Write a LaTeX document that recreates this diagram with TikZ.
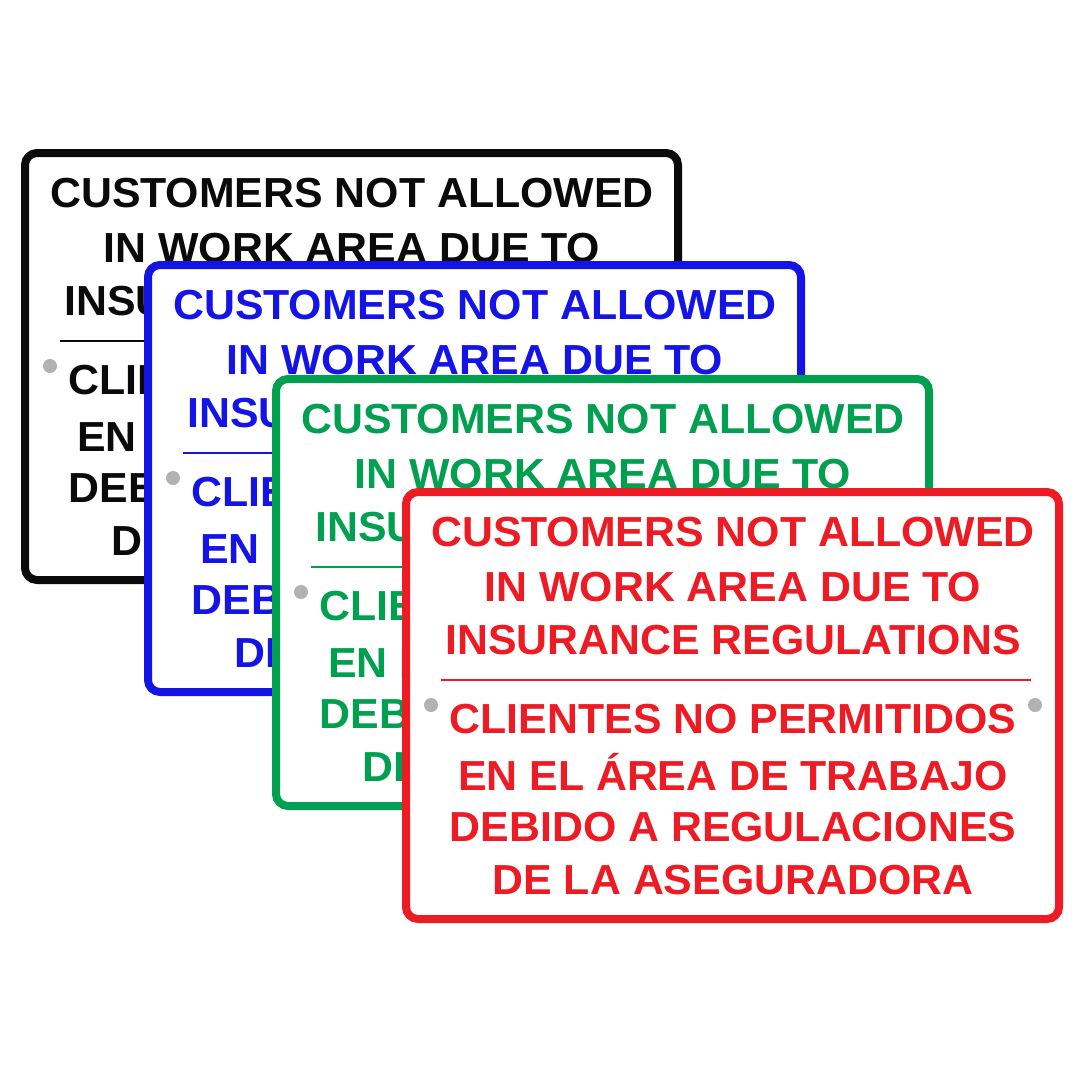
\documentclass[tikz,border=0pt]{standalone}
\usepackage{fontspec}
\setmainfont{Liberation Sans}
\definecolor{sred}{RGB}{237,28,36}
\definecolor{sblue}{RGB}{20,20,230}
\definecolor{sgreen}{RGB}{0,160,80}
\definecolor{sblack}{RGB}{10,10,10}
\tikzset{
  txt/.style={font=\bfseries\fontsize{42}{42}\selectfont, anchor=center, inner sep=0pt, xscale=1.02},
  pics/sign/.style={code={
    \draw[line width=8pt, rounded corners=12pt, draw=#1, fill=white] (0,0) rectangle (653,427);
    \node[txt,text=#1] (l1) at (327,40) {CUSTOMERS NOT ALLOWED};
    \node[txt,text=#1] (l2) at (327,95) {IN WORK AREA DUE TO};
    \node[txt,text=#1] (l3) at (327,148) {INSURANCE REGULATIONS};
    \draw[#1, line width=1.5pt] (35,188) -- (625,188);
    \node[txt,text=#1] (l4) at (327,227) {CLIENTES NO PERMITIDOS};
    \node[txt,text=#1] (l5) at (327,280) {EN EL ÁREA DE TRABAJO};
    \node[txt,text=#1] (l6) at (327,335) {DEBIDO A REGULACIONES};
    \node[txt,text=#1] (l7) at (327,388) {DE LA ASEGURADORA};
    \fill[black!30] (25,213) circle (7);
    \fill[black!30] (629,213) circle (7);
  }}
}
\begin{document}
\begin{tikzpicture}[x=1pt,y=-1pt]
\useasboundingbox (0,0) rectangle (1080,1080);
\fill[white] (0,0) rectangle (1080,1080);
\pic (s1) at (25,153) {sign=sblack};
\pic (s2) at (148,265) {sign=sblue};
\pic (s3) at (276,379) {sign=sgreen};
\pic (s4) at (406,492) {sign=sred};
\end{tikzpicture}
\end{document}
